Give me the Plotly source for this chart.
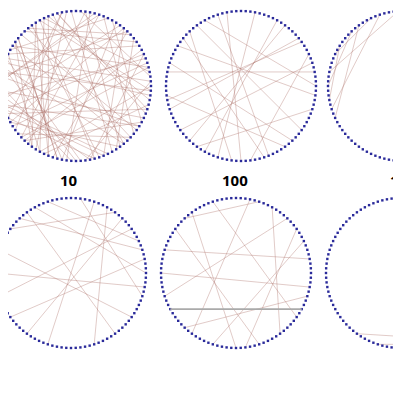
import numpy as np
import plotly.graph_objects as go

n_nodes = 100
# panel centres (image px), label text
centers = [(68, 78), (233, 78), (395, 78), (63, 265), (228, 265), (393, 265)]
labels = ["10", "100", "1'000"]
label_pos = [(50, 172), (212, 172), (380, 172)]

# chords as node index pairs per panel (node 0 at top, clockwise)
edges_0 = [(2, 40), (5, 61), (8, 33), (10, 72), (12, 55), (15, 88), (18, 47), (20, 66), (22, 93),
           (25, 58), (27, 80), (30, 69), (31, 96), (34, 77), (36, 6), (38, 84), (41, 14), (43, 71),
           (45, 90), (48, 24), (50, 79), (52, 3), (54, 86), (57, 29), (59, 98), (62, 17), (64, 37),
           (67, 11), (70, 44), (73, 19), (75, 51), (78, 26), (81, 49), (83, 7), (85, 60), (87, 35),
           (89, 13), (91, 56), (94, 28), (97, 65), (99, 42), (1, 23), (4, 76), (9, 53), (16, 82),
           (21, 63), (26, 92), (32, 74), (39, 95), (46, 68), (53, 85), (60, 91), (68, 97), (76, 5),
           (79, 39), (84, 21), (92, 46), (96, 30), (11, 44), (18, 70), (24, 81), (33, 62), (37, 89),
           (47, 73), (56, 94), (63, 2), (71, 34), (77, 12), (86, 54), (93, 58), (58, 82), (40, 67)]
edges_1 = [(3, 55), (10, 62), (14, 70), (18, 48), (22, 78), (27, 84), (30, 60), (35, 90), (40, 73),
           (44, 95), (52, 88), (58, 8), (65, 20), (72, 15), (80, 38), (86, 45), (92, 25), (97, 50)]
edges_2 = [(70, 95), (75, 88), (78, 99), (82, 93), (72, 84), (68, 90)]
edges_3 = [(2, 30), (8, 45), (12, 60), (88, 20), (92, 25), (85, 10), (95, 18), (5, 55),
           (15, 70), (22, 65), (80, 35), (90, 40), (75, 28)]
edges_4 = [(3, 60), (8, 40), (12, 70), (18, 55), (22, 80), (28, 75), (85, 45), (90, 50),
           (95, 35), (30, 62), (15, 48), (5, 88)]
edges_5 = [(42, 60), (45, 55)]
edge_sets = [edges_0, edges_1, edges_2, edges_3, edges_4, edges_5]
# the one grey horizontal chord in panel 5
grey_edge = (33, 67)

R = 75
H = 401
theta = np.deg2rad(90 - 3.6 * np.arange(n_nodes))


def node_xy(c):
    return c[0] + R * np.cos(theta), H - (c[1] - R * np.sin(theta))


fig = go.Figure()
for c, edges in zip(centers, edge_sets):
    nx, ny = node_xy(c)
    ex, ey = [], []
    for a, b in edges:
        ex += [nx[a], nx[b], None]
        ey += [ny[a], ny[b], None]
    fig.add_trace(go.Scatter(x=ex, y=ey, mode="lines", hoverinfo="skip",
                             line=dict(color="rgba(170,110,100,0.45)", width=0.8)))
    fig.add_trace(go.Scatter(x=nx, y=ny, mode="markers", hoverinfo="skip",
                             marker=dict(symbol="square", size=2.4, color="#2a2a9a")))

nx, ny = node_xy(centers[4])
fig.add_trace(go.Scatter(x=[nx[grey_edge[0]], nx[grey_edge[1]]],
                         y=[ny[grey_edge[0]], ny[grey_edge[1]]], mode="lines",
                         line=dict(color="#aaaaaa", width=1.6)))

for t, (x, y) in zip(labels, label_pos):
    fig.add_annotation(x=x, y=H - y, text="<b>" + t + "</b>", showarrow=False,
                       xanchor="left", font=dict(family="Open Sans", size=15, color="black"))

fig.update_layout(width=401, height=401, margin=dict(l=0, r=0, t=0, b=0),
                  plot_bgcolor="white", paper_bgcolor="white", showlegend=False,
                  xaxis=dict(range=[0, 401], visible=False),
                  yaxis=dict(range=[0, 401], visible=False))
fig.write_html("out.html")
